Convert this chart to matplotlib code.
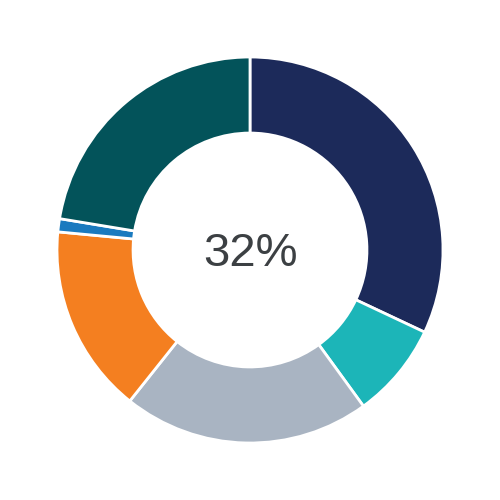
import matplotlib.pyplot as plt

labels = ["A", "B", "C", "D", "E", "F"]
values = [32, 8, 20.7, 15.8, 1.1, 22.4]
colors = ["#1c2a5a", "#1cb5b8", "#a9b4c2", "#f47f20", "#1a7abf", "#03535a"]
center_text = "32%"

fig = plt.figure(figsize=(5, 5), dpi=100)
ax = fig.add_axes([0, 0, 1, 1])
ax.pie(values, colors=colors, startangle=90, counterclock=False,
       radius=1.0,
       wedgeprops=dict(width=0.394, edgecolor="white", linewidth=2))
ax.text(0, -0.02, center_text, ha="center", va="center", fontsize=34,
        color="#3c4043", family="Liberation Sans")
lim = 250 / 193
ax.set_xlim(-lim, lim)
ax.set_ylim(-lim, lim)
ax.set_aspect("equal")
ax.axis("off")
fig.savefig("out.png", dpi=100, facecolor="white")
